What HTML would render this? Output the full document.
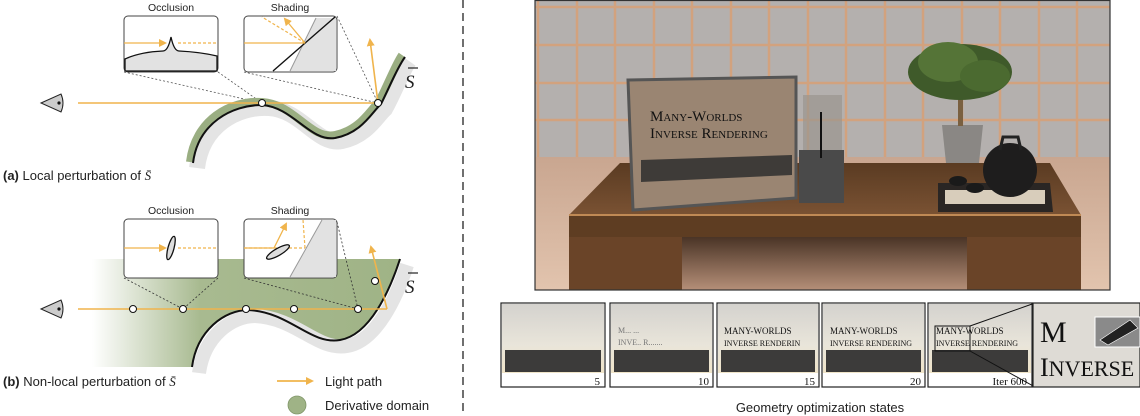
<!DOCTYPE html>
<html><head><meta charset="utf-8"><style>
body{margin:0;background:#fff;}
svg{display:block;font-family:"Liberation Sans",sans-serif;}
</style></head><body>
<svg width="1140" height="416" viewBox="0 0 1140 416" xmlns="http://www.w3.org/2000/svg">
<defs>
<marker id="ah" markerWidth="8" markerHeight="8" refX="6" refY="4" orient="auto" markerUnits="userSpaceOnUse"><path d="M0,0 L8,4 L0,8 Z" fill="#f0b44c"/></marker>
<linearGradient id="gd" x1="0" x2="1" y1="0" y2="0"><stop offset="0" stop-color="#fff"/><stop offset="0.35" stop-color="#a8ba90"/><stop offset="1" stop-color="#9fb386"/></linearGradient>
<linearGradient id="th" x1="0" y1="0" x2="0" y2="1"><stop offset="0" stop-color="#d4d2ce"/><stop offset="0.6" stop-color="#e9e5da"/><stop offset="1" stop-color="#efe4c8"/></linearGradient>
<linearGradient id="floor" x1="0" y1="0" x2="0" y2="1"><stop offset="0" stop-color="#c9a690"/><stop offset="1" stop-color="#e2c4ae"/></linearGradient>
<linearGradient id="top" x1="0" y1="0" x2="0" y2="1"><stop offset="0" stop-color="#5a3b22"/><stop offset="1" stop-color="#7a5233"/></linearGradient>
<linearGradient id="under" x1="0" y1="0" x2="0" y2="1"><stop offset="0" stop-color="#4a3426"/><stop offset="1" stop-color="#b58f78"/></linearGradient>
</defs>

<!-- ===== Panel (a) ===== -->
<text x="171" y="11" font-size="10.5" text-anchor="middle" fill="#222">Occlusion</text>
<text x="290" y="11" font-size="10.5" text-anchor="middle" fill="#222">Shading</text>
<g stroke="#555" stroke-width="0.8" stroke-dasharray="2,2" fill="none">
<line x1="124" y1="72" x2="262" y2="103"/><line x1="218" y1="72" x2="262" y2="103"/>
<line x1="244" y1="72" x2="378" y2="103"/><line x1="337" y1="16" x2="378" y2="103"/>
</g>
<path d="M190,162 C195,120 230,100 262,102 C295,104 310,140 335,135 C360,130 370,110 378,103 C388,85 395,65 402,55" transform="translate(7,6)" stroke="#e4e4e4" stroke-width="16" fill="none"/>
<path d="M190,162 C195,120 230,100 262,102 C295,104 310,140 335,135 C360,130 370,110 378,103 C388,85 395,65 402,55" stroke="#9aae82" stroke-width="8" fill="none"/>
<path d="M193,163 C198,123 232,105 262,105 C293,107 310,142 335,138 C362,133 372,112 381,104 C390,86 397,68 405,57" stroke="#111" stroke-width="2" fill="none"/>
<line x1="78" y1="103" x2="378" y2="103" stroke="#f0b44c" stroke-width="1.6"/>
<line x1="378" y1="103" x2="370" y2="40" stroke="#f0b44c" stroke-width="1.6" marker-end="url(#ah)"/>
<circle cx="262" cy="103" r="3.5" fill="#fff" stroke="#111" stroke-width="1"/>
<circle cx="378" cy="103" r="3.5" fill="#fff" stroke="#111" stroke-width="1"/>
<text x="405" y="88" font-family="Liberation Serif,serif" font-style="italic" font-size="19" fill="#222">S</text>
<line x1="408" y1="68" x2="418" y2="68" stroke="#222" stroke-width="1.2"/>
<g transform="translate(55,103)"><path d="M-14,0 L6,-9 Q10,0 6,9 Z" fill="#ccc" stroke="#222" stroke-width="1"/><circle cx="4" cy="0" r="1.6" fill="#111"/></g>
<rect x="124" y="16" width="94" height="56" rx="4" fill="#fff" stroke="#444" stroke-width="1"/>
<path d="M125,59 Q140,52 163,51 Q168,51 171,37 Q174,51 179,51 Q200,52 217,56 L217,71 L125,71 Z" fill="#e2e2e2" stroke="#111" stroke-width="1.3"/>
<line x1="124" y1="43" x2="165" y2="43" stroke="#f0b44c" stroke-width="1.3" marker-end="url(#ah)"/>
<line x1="178" y1="43" x2="218" y2="43" stroke="#f0b44c" stroke-width="1.3" stroke-dasharray="3,2"/>
<rect x="244" y="16" width="93" height="56" rx="4" fill="#fff" stroke="#444" stroke-width="1"/>
<path d="M316,18 L336,18 L336,71 L290,71 Z" fill="#e2e2e2"/>
<line x1="290" y1="71" x2="316" y2="18" stroke="#999" stroke-width="1"/>
<line x1="273" y1="71" x2="335" y2="17" stroke="#111" stroke-width="1.4"/>
<line x1="244" y1="43" x2="305" y2="43" stroke="#f0b44c" stroke-width="1.3"/>
<line x1="305" y1="43" x2="285" y2="19" stroke="#f0b44c" stroke-width="1.3" marker-end="url(#ah)"/>
<line x1="305" y1="43" x2="262" y2="17" stroke="#f0b44c" stroke-width="1.2" stroke-dasharray="3,2"/>
<text x="3" y="180" font-size="13" fill="#222"><tspan font-weight="bold">(a)</tspan> Local perturbation of <tspan font-family="Liberation Serif,serif" font-style="italic">S̄</tspan></text>

<!-- ===== Panel (b) ===== -->
<path d="M92,259 L400,259 C390,290 370,335 340,340 C310,345 290,312 248,310 C225,310 197,330 192,367 L92,367 Z" fill="url(#gd)"/>
<path d="M192,367 C197,330 225,310 248,310 C290,312 310,345 340,340 C370,335 390,290 400,259" transform="translate(7,6)" stroke="#e4e4e4" stroke-width="14" fill="none"/>
<path d="M192,367 C197,330 225,310 248,310 C290,312 310,345 340,340 C370,335 390,290 400,259" stroke="#111" stroke-width="2" fill="none"/>
<text x="171" y="214" font-size="10.5" text-anchor="middle" fill="#222">Occlusion</text>
<text x="290" y="214" font-size="10.5" text-anchor="middle" fill="#222">Shading</text>
<g stroke="#333" stroke-width="0.8" stroke-dasharray="2,2" fill="none">
<line x1="124" y1="278" x2="183" y2="309"/><line x1="218" y1="278" x2="183" y2="309"/>
<line x1="244" y1="278" x2="358" y2="309"/><line x1="337" y1="222" x2="358" y2="309"/>
</g>
<line x1="78" y1="309" x2="387" y2="309" stroke="#f0b44c" stroke-width="1.6"/>
<line x1="387" y1="309" x2="371" y2="247" stroke="#f0b44c" stroke-width="1.6" marker-end="url(#ah)"/>
<g fill="#fff" stroke="#111" stroke-width="1">
<circle cx="133" cy="309" r="3.5"/><circle cx="183" cy="309" r="3.5"/><circle cx="246" cy="309" r="3.5"/><circle cx="294" cy="309" r="3.5"/><circle cx="358" cy="309" r="3.5"/><circle cx="375" cy="281" r="3.5"/>
</g>
<text x="405" y="293" font-family="Liberation Serif,serif" font-style="italic" font-size="19" fill="#222">S</text>
<line x1="408" y1="273" x2="418" y2="273" stroke="#222" stroke-width="1.2"/>
<g transform="translate(55,309)"><path d="M-14,0 L6,-9 Q10,0 6,9 Z" fill="#ccc" stroke="#222" stroke-width="1"/><circle cx="4" cy="0" r="1.6" fill="#111"/></g>
<rect x="124" y="219" width="94" height="59" rx="4" fill="#fff" stroke="#444" stroke-width="1"/>
<line x1="124" y1="248" x2="165" y2="248" stroke="#f0b44c" stroke-width="1.3" marker-end="url(#ah)"/>
<line x1="178" y1="248" x2="218" y2="248" stroke="#f0b44c" stroke-width="1.3" stroke-dasharray="3,2"/>
<ellipse cx="171" cy="248" rx="3" ry="12" transform="rotate(15 171 248)" fill="#ddd" stroke="#111" stroke-width="1.3"/>
<rect x="244" y="219" width="93" height="59" rx="4" fill="#fff" stroke="#444" stroke-width="1"/>
<path d="M322,220 L336,220 L336,277 L290,277 Z" fill="#e2e2e2"/>
<line x1="290" y1="277" x2="322" y2="220" stroke="#999" stroke-width="1"/>
<line x1="244" y1="248" x2="305" y2="248" stroke="#f0b44c" stroke-width="1.2" stroke-dasharray="3,2"/>
<line x1="305" y1="248" x2="303" y2="220" stroke="#f0b44c" stroke-width="1.2" stroke-dasharray="3,2"/>
<line x1="244" y1="248" x2="274" y2="248" stroke="#f0b44c" stroke-width="1.3"/>
<line x1="274" y1="248" x2="286" y2="224" stroke="#f0b44c" stroke-width="1.3" marker-end="url(#ah)"/>
<ellipse cx="278" cy="252" rx="13" ry="3.5" transform="rotate(-30 278 252)" fill="#ddd" stroke="#111" stroke-width="1.3"/>
<text x="3" y="386" font-size="13" fill="#222"><tspan font-weight="bold">(b)</tspan> Non-local perturbation of <tspan font-family="Liberation Serif,serif" font-style="italic">S̄</tspan></text>
<line x1="277" y1="381" x2="312" y2="381" stroke="#f0b44c" stroke-width="1.8" marker-end="url(#ah)"/>
<text x="325" y="386" font-size="13" fill="#222">Light path</text>
<circle cx="297" cy="405" r="9" fill="#9fb386" stroke="#7f9668" stroke-width="0.8"/>
<text x="325" y="410" font-size="13" fill="#222">Derivative domain</text>

<line x1="463" y1="0" x2="463" y2="416" stroke="#222" stroke-width="1.3" stroke-dasharray="8,5"/>

<!-- ===== Photo ===== -->
<svg x="535" y="0" width="575" height="290" viewBox="535 0 575 290">
<rect x="535" y="0" width="575" height="158" fill="#b4b0ae"/>
<g stroke="#d2a27e" stroke-width="2.5">
<line x1="535" y1="7" x2="1110" y2="7"/><line x1="535" y1="45" x2="1110" y2="45"/><line x1="535" y1="83" x2="1110" y2="83"/><line x1="535" y1="120" x2="1110" y2="120"/>
<line x1="538" y1="0" x2="538" y2="157"/><line x1="577" y1="0" x2="577" y2="157"/><line x1="615" y1="0" x2="615" y2="157"/><line x1="654" y1="0" x2="654" y2="157"/><line x1="692" y1="0" x2="692" y2="157"/><line x1="731" y1="0" x2="731" y2="157"/><line x1="769" y1="0" x2="769" y2="157"/><line x1="808" y1="0" x2="808" y2="157"/><line x1="846" y1="0" x2="846" y2="157"/><line x1="885" y1="0" x2="885" y2="157"/><line x1="923" y1="0" x2="923" y2="157"/><line x1="962" y1="0" x2="962" y2="157"/><line x1="1000" y1="0" x2="1000" y2="157"/><line x1="1039" y1="0" x2="1039" y2="157"/><line x1="1077" y1="0" x2="1077" y2="157"/>
</g>
<rect x="535" y="157" width="575" height="133" fill="url(#floor)"/>
<!-- plant -->
<path d="M942,125 L983,125 L979,163 L946,163 Z" fill="#8a8784"/>
<rect x="958" y="90" width="5" height="36" fill="#7a6040"/>
<ellipse cx="960" cy="72" rx="52" ry="28" fill="#3f5a2a"/>
<ellipse cx="948" cy="62" rx="30" ry="20" fill="#557437"/>
<ellipse cx="985" cy="76" rx="25" ry="16" fill="#4b6a30"/>
<!-- table -->
<path d="M620,163 L1050,163 L1081,215 L569,215 Z" fill="url(#top)"/>
<rect x="569" y="215" width="512" height="22" fill="#5e3d22"/>
<rect x="569" y="214" width="512" height="2" fill="#c08a55"/>
<rect x="569" y="237" width="113" height="53" fill="#6a4428"/>
<rect x="967" y="237" width="114" height="53" fill="#6a4428"/>
<rect x="682" y="237" width="285" height="53" fill="url(#under)"/>
<!-- mirror -->
<path d="M628,80 L796,77 L796,198 L633,210 Z" fill="#9a8572" stroke="#555" stroke-width="3"/>
<path d="M641,160 L792,155 L792,175 L641,182 Z" fill="#3e3b38"/>
<text x="650" y="121" font-size="15" font-family="Liberation Serif,serif" fill="#111">M<tspan font-size="11">ANY</tspan>-W<tspan font-size="11">ORLDS</tspan></text>
<text x="650" y="138" font-size="15" font-family="Liberation Serif,serif" fill="#111">I<tspan font-size="11">NVERSE</tspan> R<tspan font-size="11">ENDERING</tspan></text>
<!-- glass box -->
<rect x="803" y="95" width="39" height="60" fill="#9a958f" opacity="0.7"/>
<rect x="799" y="150" width="45" height="53" fill="#4a4a4a"/>
<rect x="820" y="112" width="2" height="46" fill="#111"/>
<!-- tray + teapot -->
<path d="M938,183 L1050,183 L1053,212 L938,212 Z" fill="#2a2624"/>
<rect x="945" y="190" width="100" height="14" fill="#d8cdbb"/>
<circle cx="1010" cy="170" r="27" fill="#1e1d1d"/>
<path d="M1000,150 L1003,137 L1018,137 L1021,150" stroke="#222" stroke-width="3" fill="none"/>
<ellipse cx="958" cy="181" rx="9" ry="5" fill="#1a1a1a"/><ellipse cx="975" cy="188" rx="9" ry="5" fill="#1a1a1a"/>
</svg>
<rect x="535" y="0.5" width="575" height="289.5" fill="none" stroke="#333" stroke-width="1.2"/>

<!-- ===== Thumbnails ===== -->
<g font-family="Liberation Serif,serif" fill="#111">
<g><rect x="501" y="303" width="104" height="84" fill="#fff" stroke="#222" stroke-width="1.2"/><rect x="502" y="304" width="102" height="69" fill="url(#th)"/><rect x="505" y="350" width="96" height="22" fill="#3c3b3a"/><text x="600" y="385" font-size="11" text-anchor="end">5</text></g>
<g><rect x="610" y="303" width="103" height="84" fill="#fff" stroke="#222" stroke-width="1.2"/><rect x="611" y="304" width="101" height="69" fill="url(#th)"/><rect x="614" y="350" width="95" height="22" fill="#3c3b3a"/><text x="618" y="333" font-size="8" fill="#777">M... ...</text><text x="618" y="345" font-size="8" fill="#777">INVE.. R.......</text><text x="709" y="385" font-size="11" text-anchor="end">10</text></g>
<g><rect x="717" y="303" width="102" height="84" fill="#fff" stroke="#222" stroke-width="1.2"/><rect x="718" y="304" width="100" height="69" fill="url(#th)"/><rect x="721" y="350" width="94" height="22" fill="#3c3b3a"/><text x="724" y="334" font-size="9">MANY-WORLDS</text><text x="724" y="346" font-size="8">INVERSE RENDERIN</text><text x="815" y="385" font-size="11" text-anchor="end">15</text></g>
<g><rect x="822" y="303" width="103" height="84" fill="#fff" stroke="#222" stroke-width="1.2"/><rect x="823" y="304" width="101" height="69" fill="url(#th)"/><rect x="826" y="350" width="95" height="22" fill="#3c3b3a"/><text x="830" y="334" font-size="9">MANY-WORLDS</text><text x="830" y="346" font-size="8">INVERSE RENDERING</text><text x="921" y="385" font-size="11" text-anchor="end">20</text></g>
<g><rect x="928" y="303" width="104" height="84" fill="#fff" stroke="#222" stroke-width="1.2"/><rect x="929" y="304" width="102" height="69" fill="url(#th)"/><rect x="932" y="350" width="96" height="22" fill="#3c3b3a"/><text x="936" y="334" font-size="9">MANY-WORLDS</text><text x="936" y="346" font-size="8">INVERSE RENDERING</text><rect x="935" y="326" width="35" height="25" fill="none" stroke="#111" stroke-width="1"/><line x1="970" y1="326" x2="1035" y2="303" stroke="#111"/><line x1="970" y1="351" x2="1035" y2="387" stroke="#111"/><text x="1027" y="385" font-size="11" text-anchor="end">Iter 600</text></g>
<g><rect x="1033" y="303" width="107" height="84" fill="#dedbd5" stroke="#222" stroke-width="1.2"/><text x="1040" y="342" font-size="30">M</text><text x="1040" y="376" font-size="26">I<tspan font-size="22">NVERSE</tspan></text><rect x="1095" y="317" width="45" height="30" fill="#8a8a8a" stroke="#fff" stroke-width="1"/><path d="M1100,340 L1130,320 L1138,328 L1108,345 Z" fill="#222" stroke="#fff" stroke-width="0.6"/></g>
</g>
<text x="820" y="412" font-size="13" text-anchor="middle" fill="#222">Geometry optimization states</text>
</svg>
</body></html>
